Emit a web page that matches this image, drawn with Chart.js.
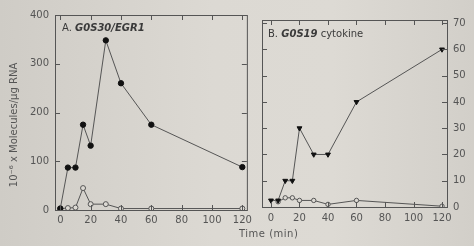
<!DOCTYPE html>
<html>
<head>
<meta charset="utf-8">
<script src="https://cdn.jsdelivr.net/npm/chart.js@4"></script>
<style>
    html, body { margin: 0; padding: 0; }
    body {
        width: 474px; height: 246px; position: relative; overflow: hidden;
        background: linear-gradient(to right, #cfccc6 0%, #dcd9d3 45%, #dddad4 70%, #d2cfc9 100%);
        font-family: "DejaVu Sans", sans-serif;
    }
    .panel { position: absolute; top: 0; height: 246px; }
    #time-label { position: absolute; left: 239px; top: 228px; font-size: 10px; color: #555; letter-spacing: 0.5px; }
</style>
</head>
<body>
<div class="panel" style="left: 0; width: 256px;"><canvas id="chart-a"></canvas></div>
<div class="panel" style="left: 256px; width: 218px;"><canvas id="chart-b"></canvas></div>
<div id="time-label">Time (min)</div>

<script>
// Panel A: G0S30/EGR1
const timesA = [0, 5, 10, 15, 20, 30, 40, 60, 120];
const egr1Filled = [3, 87, 87, 175, 132, 348, 260, 175, 88];
const egr1Open = [3, 4, 5, 45, 12, 12, 3, 3, 3];

// Panel B: G0S19 cytokine
const timesB = [0, 5, 10, 15, 20, 30, 40, 60, 120];
const cytoFilled = [2.5, 2.5, 10, 10, 30, 20, 20, 40, 60];
const timesBOpen = [5, 10, 15, 20, 30, 40, 60, 120];
const cytoOpen = [2, 3.5, 3.5, 2.5, 2.5, 1, 2.5, 0.3];

const timeTicks = [0, 20, 40, 60, 80, 100, 120];
const yTicksA = [0, 100, 200, 300, 400];
const yTicksB = [0, 10, 20, 30, 40, 50, 60, 70];

const inkColor = '#555';
const lineColor = '#555';

const pairs = (xs, ys) => xs.map((x, i) => ({ x: x, y: ys[i] }));

// frame around the plot area with inward tick marks on all four sides
const framePlugin = {
    id: 'frame',
    afterDraw(chart, args, opts) {
        const { ctx, chartArea: a, scales } = chart;
        ctx.save();
        ctx.strokeStyle = '#555';
        ctx.lineWidth = 1;
        ctx.strokeRect(a.left + 0.5, a.top + 0.5, a.right - a.left, a.bottom - a.top);
        ctx.beginPath();
        scales.x.ticks.forEach(t => {
            const px = Math.round(scales.x.getPixelForValue(t.value)) + 0.5;
            ctx.moveTo(px, a.bottom); ctx.lineTo(px, a.bottom - 5);
            ctx.moveTo(px, a.top); ctx.lineTo(px, a.top + 5);
        });
        scales.y.ticks.forEach(t => {
            const py = Math.round(scales.y.getPixelForValue(t.value)) + 0.5;
            ctx.moveTo(a.left, py); ctx.lineTo(a.left + 5, py);
            ctx.moveTo(a.right, py); ctx.lineTo(a.right - 5, py);
        });
        ctx.stroke();

        // panel title
        ctx.fillStyle = '#3a3a3a';
        ctx.textBaseline = 'alphabetic';
        let x = opts.titleX;
        opts.title.forEach(part => {
            ctx.font = part.font;
            ctx.fillText(part.text, x, opts.titleY);
            x += ctx.measureText(part.text).width;
        });

        if (opts.yTitle) {
            ctx.translate(17, 125);
            ctx.rotate(-Math.PI / 2);
            ctx.textAlign = 'center';
            ctx.font = '10px "DejaVu Sans"';
            ctx.fillStyle = inkColor;
            ctx.fillText('10\u207B\u2076 x Molecules/\u00B5g RNA', 0, 0);
        }
        ctx.restore();
    }
};

function fixedTicks(values) {
    return scale => { scale.ticks = values.map(v => ({ value: v })); };
}

const tickFont = { family: 'DejaVu Sans', size: 10 };

new Chart(document.getElementById('chart-a'), {
    type: 'line',
    data: {
        datasets: [
            {
                data: pairs(timesA, egr1Filled),
                borderColor: lineColor, borderWidth: 1,
                pointStyle: 'circle', pointRadius: 2.7,
                pointBackgroundColor: '#111', pointBorderColor: '#111',
                tension: 0
            },
            {
                data: pairs(timesA, egr1Open),
                borderColor: lineColor, borderWidth: 1,
                pointStyle: 'circle', pointRadius: 2.5,
                pointBackgroundColor: '#dcd9d3', pointBorderColor: '#555',
                tension: 0
            }
        ]
    },
    options: {
        responsive: true,
        maintainAspectRatio: false,
        animation: false,
        layout: { padding: { top: 15, right: 6 } },
        plugins: {
            legend: { display: false },
            tooltip: { enabled: false },
            frame: {
                titleX: 62, titleY: 31,
                title: [
                    { text: 'A. ', font: '10px "DejaVu Sans"' },
                    { text: 'G0S30/EGR1', font: 'italic bold 10px "DejaVu Sans"' }
                ],
                yTitle: true
            }
        },
        scales: {
            x: {
                type: 'linear', min: -3.5, max: 123,
                afterBuildTicks: fixedTicks(timeTicks),
                afterFit: s => { s.height = 36; },
                grid: { display: false, drawTicks: false },
                border: { display: false },
                ticks: { color: inkColor, font: tickFont, padding: 4 }
            },
            y: {
                min: 0, max: 400,
                afterBuildTicks: fixedTicks(yTicksA),
                afterFit: s => { s.width = 55; },
                grid: { display: false, drawTicks: false },
                border: { display: false },
                ticks: { color: inkColor, font: tickFont, padding: 6 }
            }
        }
    },
    plugins: [framePlugin]
});

new Chart(document.getElementById('chart-b'), {
    type: 'line',
    data: {
        datasets: [
            {
                data: pairs(timesB, cytoFilled),
                borderColor: lineColor, borderWidth: 1,
                pointStyle: 'triangle', rotation: 180, pointRadius: 2.8,
                pointBackgroundColor: '#111', pointBorderColor: '#111',
                tension: 0
            },
            {
                data: pairs(timesBOpen, cytoOpen),
                borderColor: lineColor, borderWidth: 1,
                pointStyle: 'circle', pointRadius: 2.2,
                pointBackgroundColor: '#dcd9d3', pointBorderColor: '#555',
                tension: 0
            }
        ]
    },
    options: {
        responsive: true,
        maintainAspectRatio: false,
        animation: false,
        layout: { padding: { top: 20, left: 6 } },
        plugins: {
            legend: { display: false },
            tooltip: { enabled: false },
            frame: {
                titleX: 12, titleY: 37,
                title: [
                    { text: 'B. ', font: '10px "DejaVu Sans"' },
                    { text: 'G0S19', font: 'italic bold 10px "DejaVu Sans"' },
                    { text: ' cytokine', font: '10px "DejaVu Sans"' }
                ]
            }
        },
        scales: {
            x: {
                type: 'linear', min: -6.3, max: 123.5,
                afterBuildTicks: fixedTicks(timeTicks),
                afterFit: s => { s.height = 39; },
                grid: { display: false, drawTicks: false },
                border: { display: false },
                ticks: { color: inkColor, font: tickFont, padding: 5 }
            },
            y: {
                position: 'right',
                min: 0, max: 71.2,
                afterBuildTicks: fixedTicks(yTicksB),
                afterFit: s => { s.width = 27; },
                grid: { display: false, drawTicks: false },
                border: { display: false },
                ticks: { color: inkColor, font: tickFont, padding: 6 }
            }
        }
    },
    plugins: [framePlugin]
});
</script>
</body>
</html>
